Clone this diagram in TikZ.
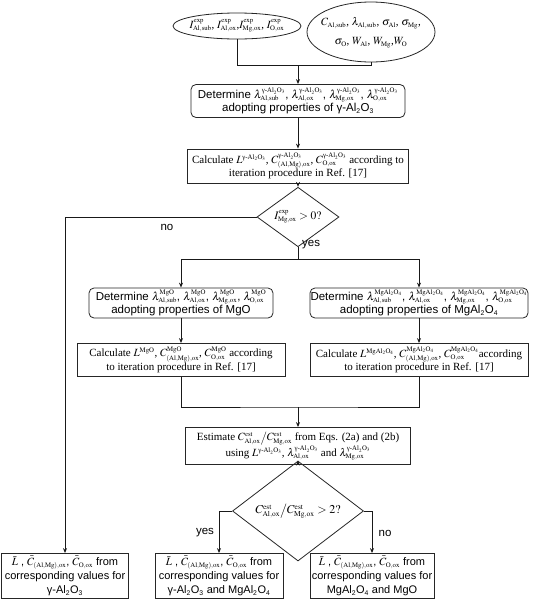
\documentclass[tikz,border=0pt]{standalone}
\usepackage{amsmath}
\usepackage{mathptmx}
\usepackage{fontspec}
\setmainfont{Liberation Serif}
\setsansfont{Liberation Sans}
\usetikzlibrary{shapes.geometric,arrows.meta}
\DeclareMathSizes{11.5}{11.5}{6.8}{5}
\DeclareMathSizes{11}{11}{6.8}{5}
\DeclareMathSizes{10.5}{10.5}{6.8}{5}
\DeclareMathSizes{12}{12}{7.5}{5.5}
\newcommand{\myga}{\text{\rmfamily\upshape γ-Al}_{2}\mathrm{O}_{3}}
\newcommand{\mymga}{\mathrm{MgAl_{2}O_{4}}}
\newcommand{\rs}[1]{\mathrm{#1}}
\newcommand{\fs}{\fontsize{11.5}{13.5}\selectfont}
\newcommand{\fr}{\fontsize{11}{13.5}\selectfont}
\begin{document}
\begin{tikzpicture}[x=1pt,y=-1pt,
  base/.style={draw=black!85,line width=0.8pt,inner sep=0.5pt,align=center,font=\fs},
  sbox/.style={base,rectangle,font=\fs\sffamily},
  rbox/.style={base,rectangle,font=\fr\rmfamily},
  rounded/.style={sbox,rounded corners=5pt},
  ell/.style={base,ellipse,inner sep=0pt,font=\fontsize{11}{17}\selectfont\rmfamily},
  dia/.style={base,diamond,inner sep=0pt,font=\fs\rmfamily},
  bbox/.style={sbox,font=\fontsize{11}{14}\selectfont\sffamily,minimum height=45},
  conn/.style={line width=1pt,draw=black!90},
  arr/.style={conn,-{Stealth[length=5pt,width=4pt]}},
  lab/.style={font=\fs\sffamily,inner sep=0pt}]
\useasboundingbox (0,0) rectangle (533,600);
\fill[white] (0,0) rectangle (533,600);

\node[ell,minimum width=128,minimum height=26] (e1) at (237,26)
 {\makebox[0pt]{$I^{\rs{exp}}_{\rs{Al,sub}}$, $I^{\rs{exp}}_{\rs{Al,ox}}$,$I^{\rs{exp}}_{\rs{Mg,ox}}$, $I^{\rs{exp}}_{\rs{O,ox}}$}};
\node[ell,minimum width=128,minimum height=60] (e2) at (371,32)
 {\makebox[0pt]{\begin{tabular}{@{}c@{}}$C_{\rs{Al,sub}}$, $\lambda_{\rs{Al,sub}}$, $\sigma_{\rs{Al}}$, $\sigma_{\rs{Mg}}$,\\[2pt] $\sigma_{\rs{O}}$, $W_{\rs{Al}}$, $W_{\rs{Mg}}$,$W_{\rs{O}}$\end{tabular}}};

\node[rounded,minimum width=214,minimum height=33] (b1) at (298,101)
 {Determine $\lambda^{\myga}_{\rs{Al,sub}}$, $\lambda^{\myga}_{\rs{Al,ox}}$, $\lambda^{\myga}_{\rs{Mg,ox}}$, $\lambda^{\myga}_{\rs{O,ox}}$\\ adopting properties of γ-Al\textsubscript{2}O\textsubscript{3}};
\node[rbox,minimum width=221,minimum height=34] (b2) at (298,166)
 {Calculate $L^{\myga}$, $C^{\myga}_{\rs{(Al,Mg),ox}}$, $C^{\myga}_{\rs{O,ox}}$ according to\\ iteration procedure in Ref. [17]};
\node[dia,minimum width=82,minimum height=37] (d1) at (298,217)
 {$I^{\rs{exp}}_{\rs{Mg,ox}}>0?$};

\node[rounded,minimum width=184,minimum height=30] (m1) at (181,303)
 {Determine $\lambda^{\rs{MgO}}_{\rs{Al,sub}}$, $\lambda^{\rs{MgO}}_{\rs{Al,ox}}$, $\lambda^{\rs{MgO}}_{\rs{Mg,ox}}$, $\lambda^{\rs{MgO}}_{\rs{O,ox}}$\\ adopting properties of MgO};
\node[rbox,minimum width=208,minimum height=33] (m2) at (181,360)
 {Calculate $L^{\rs{MgO}}$, $C^{\rs{MgO}}_{\rs{(Al,Mg),ox}}$, $C^{\rs{MgO}}_{\rs{O,ox}}$ according\\ to iteration procedure in Ref. [17]};
\node[rounded,minimum width=218,minimum height=30] (s1) at (419,303)
 {Determine $\lambda^{\mymga}_{\rs{Al,sub}}$, $\lambda^{\mymga}_{\rs{Al,ox}}$, $\lambda^{\mymga}_{\rs{Mg,ox}}$, $\lambda^{\mymga}_{\rs{O,ox}}$\\ adopting properties of MgAl\textsubscript{2}O\textsubscript{4}};
\node[rbox,minimum width=218,minimum height=33] (s2) at (419,360)
 {Calculate $L^{\mymga}$, $C^{\mymga}_{\rs{(Al,Mg),ox}}$, $C^{\mymga}_{\rs{O,ox}}$according\\ to iteration procedure in Ref. [17]};

\node[rbox,minimum width=225,minimum height=37] (est) at (298,446)
 {Estimate $C^{\rs{est}}_{\rs{Al,ox}}\big/C^{\rs{est}}_{\rs{Mg,ox}}$ from Eqs. (2a) and (2b)\\ using $L^{\myga}$, $\lambda^{\myga}_{\rs{Al,ox}}$ and $\lambda^{\myga}_{\rs{Mg,ox}}$};
\node[dia,minimum width=131,minimum height=45,font=\fontsize{12}{14}\selectfont\rmfamily] (d2) at (298,511)
 {$C^{\rs{est}}_{\rs{Al,ox}}\big/C^{\rs{est}}_{\rs{Mg,ox}}>2?$};

\node[bbox,minimum width=127] (ra) at (65,576)
 {$\bar{L}$ , $\bar{C}_{\rs{(Al,Mg),ox}}$, $\bar{C}_{\rs{O,ox}}$ from\\ corresponding values for\\ γ-Al\textsubscript{2}O\textsubscript{3}};
\node[bbox,minimum width=128] (rb) at (219,576)
 {$\bar{L}$ , $\bar{C}_{\rs{(Al,Mg),ox}}$, $\bar{C}_{\rs{O,ox}}$ from\\ corresponding values for\\ γ-Al\textsubscript{2}O\textsubscript{3} and MgAl\textsubscript{2}O\textsubscript{4}};
\node[bbox,minimum width=124] (rc) at (372,576)
 {$\bar{L}$ , $\bar{C}_{\rs{(Al,Mg),ox}}$, $\bar{C}_{\rs{O,ox}}$ from\\ corresponding values for\\ MgAl\textsubscript{2}O\textsubscript{4} and MgO};

% connectors
\coordinate (j1) at (298,65);
\draw[conn] (e1.south) -- (e1.south |- j1) -- (e2.south |- j1) -- (e2.south);
\draw[arr] (j1) -- (b1.north);
\draw[arr] (b1) -- (b2);
\draw[arr] (b2) -- (d1);
\draw[arr] (d1.west) -| (ra.north);
\node[lab] (no1) at (167,227) {no};
\coordinate (j2) at (298,259);
\draw[conn] (d1.south) -- (j2);
\node[lab,anchor=west] (yes1) at (302,245) {yes};
\draw[arr] (j2) -| (m1.north);
\draw[arr] (j2) -| (s1.north);
\draw[arr] (m1) -- (m2);
\draw[arr] (s1) -- (s2);
\coordinate (j3) at (298,407);
\draw[conn] (m2.south) |- (j3) -| (s2.south);
\draw[arr] (j3) -- (est.north);
\draw[arr] (est) -- (d2);
\draw[arr] (d2.west) -| (rb.north);
\draw[arr] (d2.east) -| (rc.north);
\node[lab] (yes2) at (205,533) {yes};
\node[lab] (no2) at (385,533) {no};
\end{tikzpicture}
\end{document}
